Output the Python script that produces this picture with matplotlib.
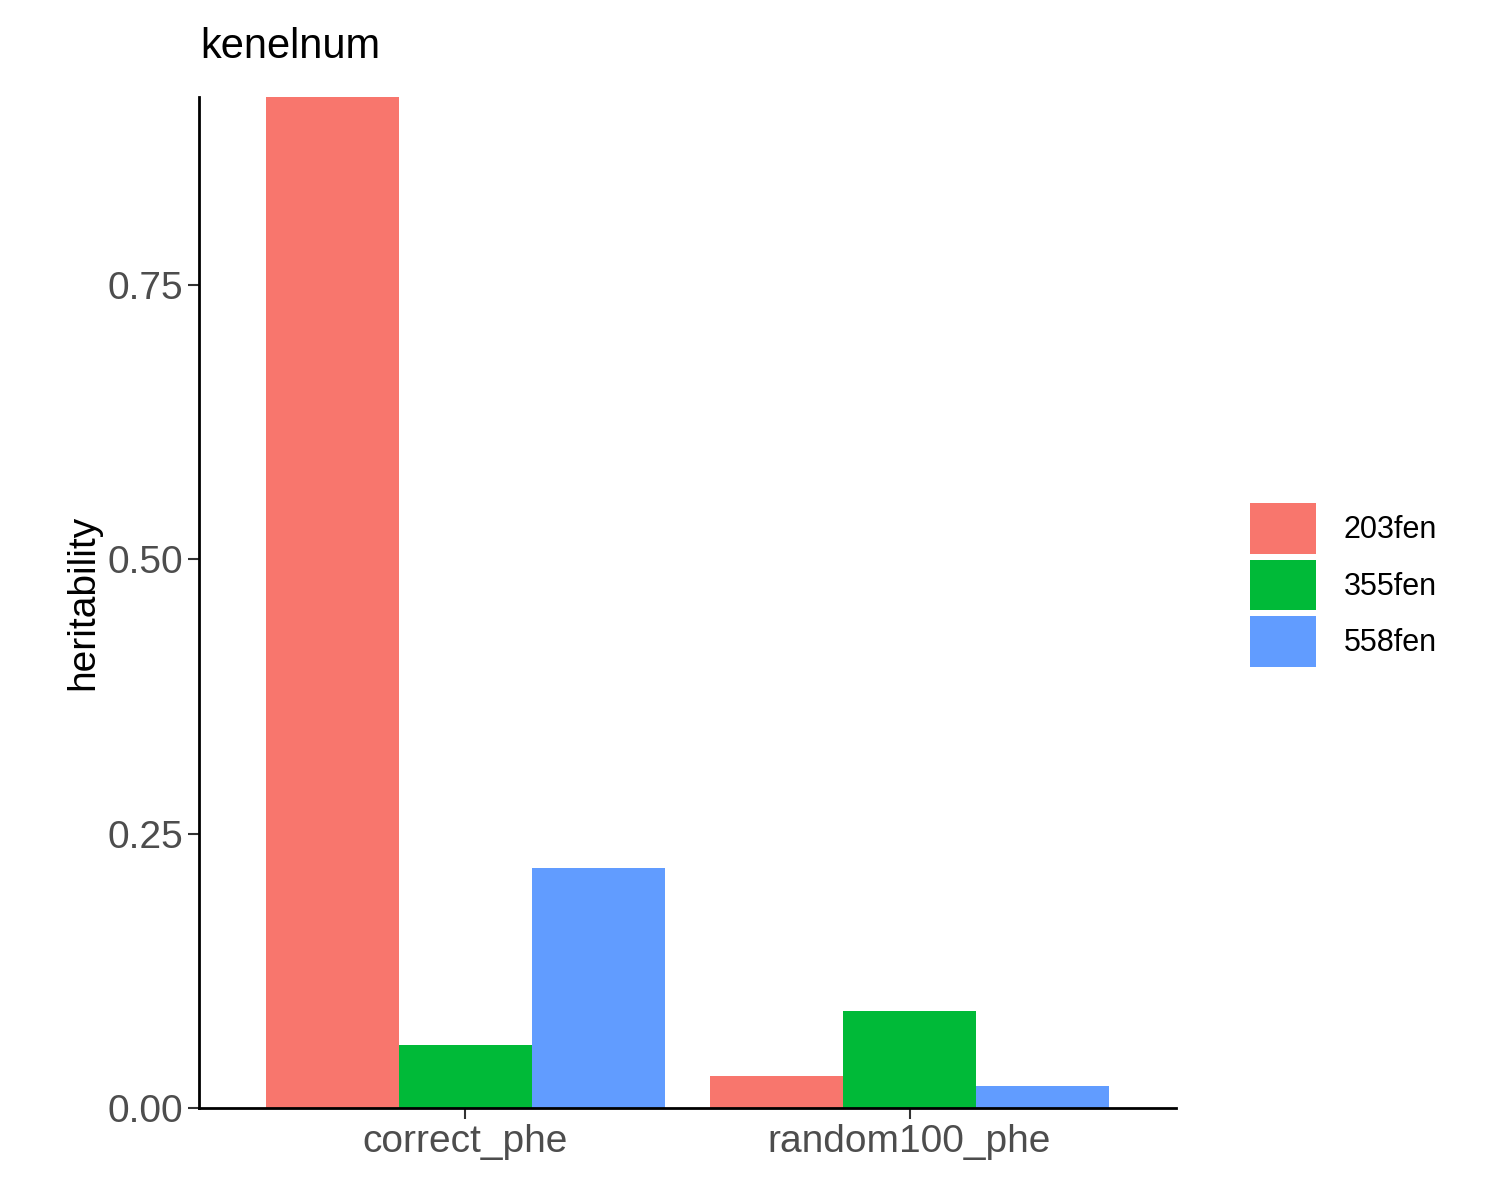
import matplotlib
matplotlib.use("Agg")
import matplotlib.pyplot as plt
import numpy as np

plt.rcParams['font.family'] = ['Liberation Sans', 'DejaVu Sans']

categories = ["correct_phe", "random100_phe"]
groups = ["203fen", "355fen", "558fen"]
values = {
    "203fen": [0.9216, 0.0292],
    "355fen": [0.0574, 0.0884],
    "558fen": [0.2188, 0.0201],
}
colors = ["#F8766D", "#00BA38", "#619CFF"]

fig = plt.figure(figsize=(15, 12), dpi=100)
ax = fig.add_axes([199/1500, 1 - 1108/1200, (1176-199)/1500, (1108-97)/1200])
x = np.arange(1, len(categories) + 1)
w = 0.3
for i, g in enumerate(groups):
    ax.bar(x + (i - 1) * w, values[g], width=w, color=colors[i], label=g)

ax.set_xlim(0.4, 2.6)
ax.set_ylim(0, max(values["203fen"]))
ax.set_xticks(x)
ax.set_xticklabels(categories)
ax.set_yticks([0, 0.25, 0.5, 0.75])
ax.set_yticklabels(["0.00", "0.25", "0.50", "0.75"])
ax.tick_params(axis='both', labelsize=28, labelcolor="#4D4D4D", length=8, width=1.5, color="#333333")
for s in ["top", "right"]:
    ax.spines[s].set_visible(False)
for s in ["left", "bottom"]:
    ax.spines[s].set_linewidth(2)
ax.set_ylabel("heritability", fontsize=28)
fig.text(200/1500, 1 - 47/1200, "kenelnum", fontsize=30, va="center", ha="left")
ax.legend(loc="center left", bbox_to_anchor=(1238/1500, 615/1200), bbox_transform=fig.transFigure,
          frameon=False, fontsize=22, handlelength=2.16, handleheight=2.16, labelspacing=0.2,
          handletextpad=0.9, borderaxespad=0)
fig.savefig("out.png", dpi=100)
